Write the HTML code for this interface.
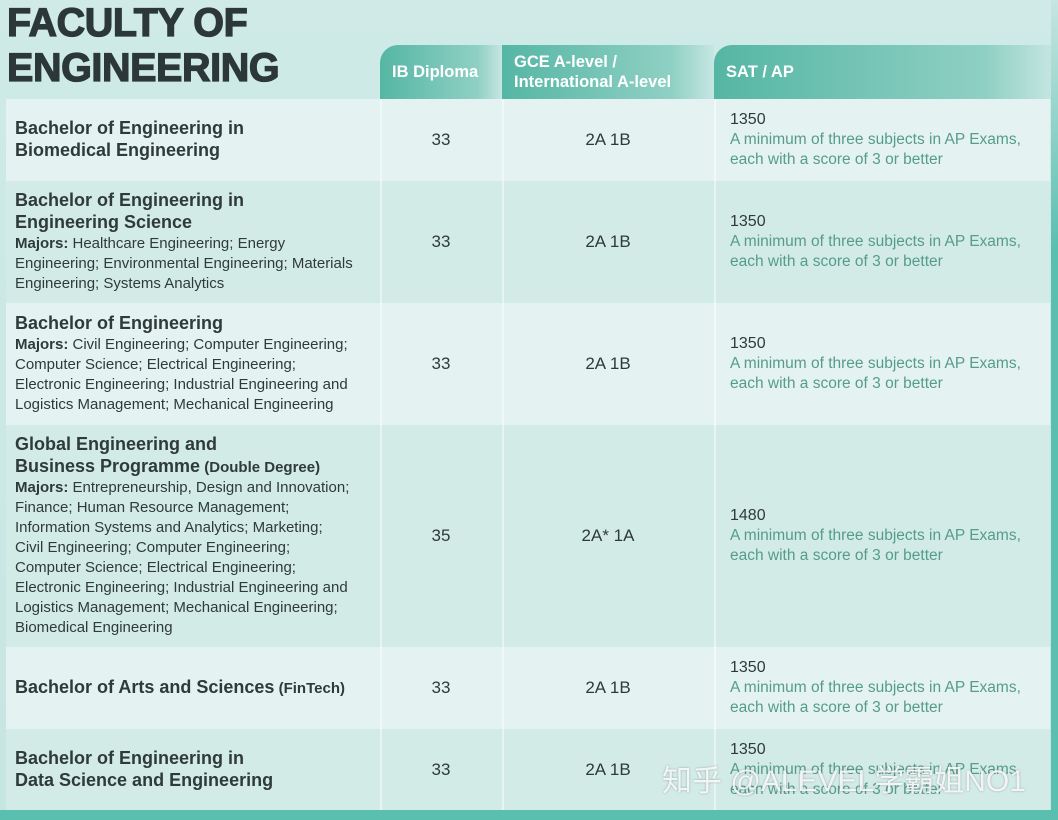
<!DOCTYPE html>
<html><head><meta charset="utf-8"><style>
*{margin:0;padding:0;box-sizing:border-box}
body{width:1058px;height:820px;overflow:hidden;background:linear-gradient(180deg,#cfeae7,#c6e6e2);font-family:"Liberation Sans",Arial,sans-serif;position:relative;color:#2f3a3a}
.t{position:absolute;left:7px;top:1px;font-size:39.5px;font-weight:900;line-height:45px;color:#2c3838;letter-spacing:-0.4px;-webkit-text-stroke:1.3px #2c3838}
.h{position:absolute;top:45px;height:54px;background:linear-gradient(90deg,#55b6a4,#8fd0c4 80%,#c6e6e2);border-radius:18px 0 0 0;color:#fff;font-weight:bold;font-size:16.5px;line-height:20px;padding-left:12px;display:flex;align-items:center}
.r{position:absolute;left:6px;width:1044px}
.c{position:absolute;top:0;bottom:0;display:flex;align-items:center}
.n{left:9px;width:370px;font-size:15px;line-height:20px}
.n b{font-size:18px}
.n .m{font-weight:bold}
.ib{left:374px;width:122px;justify-content:center;font-size:17px}
.g{left:496px;width:212px;justify-content:center;font-size:17px}
.s{left:708px;width:336px;padding-left:14px;font-size:15.5px;line-height:20px;border-left:2px solid rgba(255,255,255,.5)}
.s span{color:#559c8a}
.s .sc{font-size:16px;color:#2f3a3a}
.v{position:absolute;top:0;bottom:0;width:2px;background:rgba(255,255,255,.45)}
</style></head><body>
<div class="t">FACULTY OF<br>ENGINEERING</div>
<div class="h" style="left:380px;width:122px">IB Diploma</div>
<div class="h" style="left:502px;width:212px;border-radius:0">GCE A-level /<br>International A-level</div>
<div class="h" style="left:714px;width:340px">SAT / AP</div>

<div class="r" style="top:99px;height:82px;background:#e4f3f1"><div class="v" style="left:374px"></div><div class="v" style="left:496px"></div>
<div class="c n"><div><b>Bachelor of Engineering in<br>Biomedical Engineering</b></div></div>
<div class="c ib">33</div><div class="c g">2A 1B</div>
<div class="c s"><div><div class="sc">1350</div><span>A minimum of three subjects in AP Exams,<br>each with a score of 3 or better</span></div></div></div>

<div class="r" style="top:181px;height:122px;background:#d3ebe7"><div class="v" style="left:374px"></div><div class="v" style="left:496px"></div>
<div class="c n"><div><b>Bachelor of Engineering in<br>Engineering Science</b><br><span class="m">Majors:</span> Healthcare Engineering; Energy<br>Engineering; Environmental Engineering; Materials<br>Engineering; Systems Analytics</div></div>
<div class="c ib">33</div><div class="c g">2A 1B</div>
<div class="c s"><div><div class="sc">1350</div><span>A minimum of three subjects in AP Exams,<br>each with a score of 3 or better</span></div></div></div>

<div class="r" style="top:303px;height:122px;background:#e4f3f1"><div class="v" style="left:374px"></div><div class="v" style="left:496px"></div>
<div class="c n"><div><b>Bachelor of Engineering</b><br><span class="m">Majors:</span> Civil Engineering; Computer Engineering;<br>Computer Science; Electrical Engineering;<br>Electronic Engineering; Industrial Engineering and<br>Logistics Management; Mechanical Engineering</div></div>
<div class="c ib">33</div><div class="c g">2A 1B</div>
<div class="c s"><div><div class="sc">1350</div><span>A minimum of three subjects in AP Exams,<br>each with a score of 3 or better</span></div></div></div>

<div class="r" style="top:425px;height:222px;background:#d3ebe7"><div class="v" style="left:374px"></div><div class="v" style="left:496px"></div>
<div class="c n"><div><b>Global Engineering and<br>Business Programme</b> <span class="m">(Double Degree)</span><br><span class="m">Majors:</span> Entrepreneurship, Design and Innovation;<br>Finance; Human Resource Management;<br>Information Systems and Analytics; Marketing;<br>Civil Engineering; Computer Engineering;<br>Computer Science; Electrical Engineering;<br>Electronic Engineering; Industrial Engineering and<br>Logistics Management; Mechanical Engineering;<br>Biomedical Engineering</div></div>
<div class="c ib">35</div><div class="c g">2A* 1A</div>
<div class="c s"><div><div class="sc">1480</div><span>A minimum of three subjects in AP Exams,<br>each with a score of 3 or better</span></div></div></div>

<div class="r" style="top:647px;height:82px;background:#e4f3f1"><div class="v" style="left:374px"></div><div class="v" style="left:496px"></div>
<div class="c n"><div><b>Bachelor of Arts and Sciences</b> <span class="m">(FinTech)</span></div></div>
<div class="c ib">33</div><div class="c g">2A 1B</div>
<div class="c s"><div><div class="sc">1350</div><span>A minimum of three subjects in AP Exams,<br>each with a score of 3 or better</span></div></div></div>

<div class="r" style="top:729px;height:81px;background:#d3ebe7"><div class="v" style="left:374px"></div><div class="v" style="left:496px"></div>
<div class="c n"><div><b>Bachelor of Engineering in<br>Data Science and Engineering</b></div></div>
<div class="c ib">33</div><div class="c g">2A 1B</div>
<div class="c s"><div><div class="sc">1350</div><span>A minimum of three subjects in AP Exams,<br>each with a score of 3 or better</span></div></div></div>

<div style="position:absolute;left:0;top:810px;width:1058px;height:10px;background:#5bbfb0"></div>
<div style="position:absolute;left:1051px;top:0;width:7px;height:820px;background:linear-gradient(180deg,#c6e6e2,#5bbfb0 30%)"></div>
<div style="position:absolute;left:662px;top:756px;font-size:30px;color:rgba(255,255,255,.85);font-family:'Liberation Sans','Noto Sans CJK SC',sans-serif;text-shadow:0 0 2px rgba(0,0,0,.3)">知乎 @ALEVEL学霸姐NO1</div>
</body></html>
